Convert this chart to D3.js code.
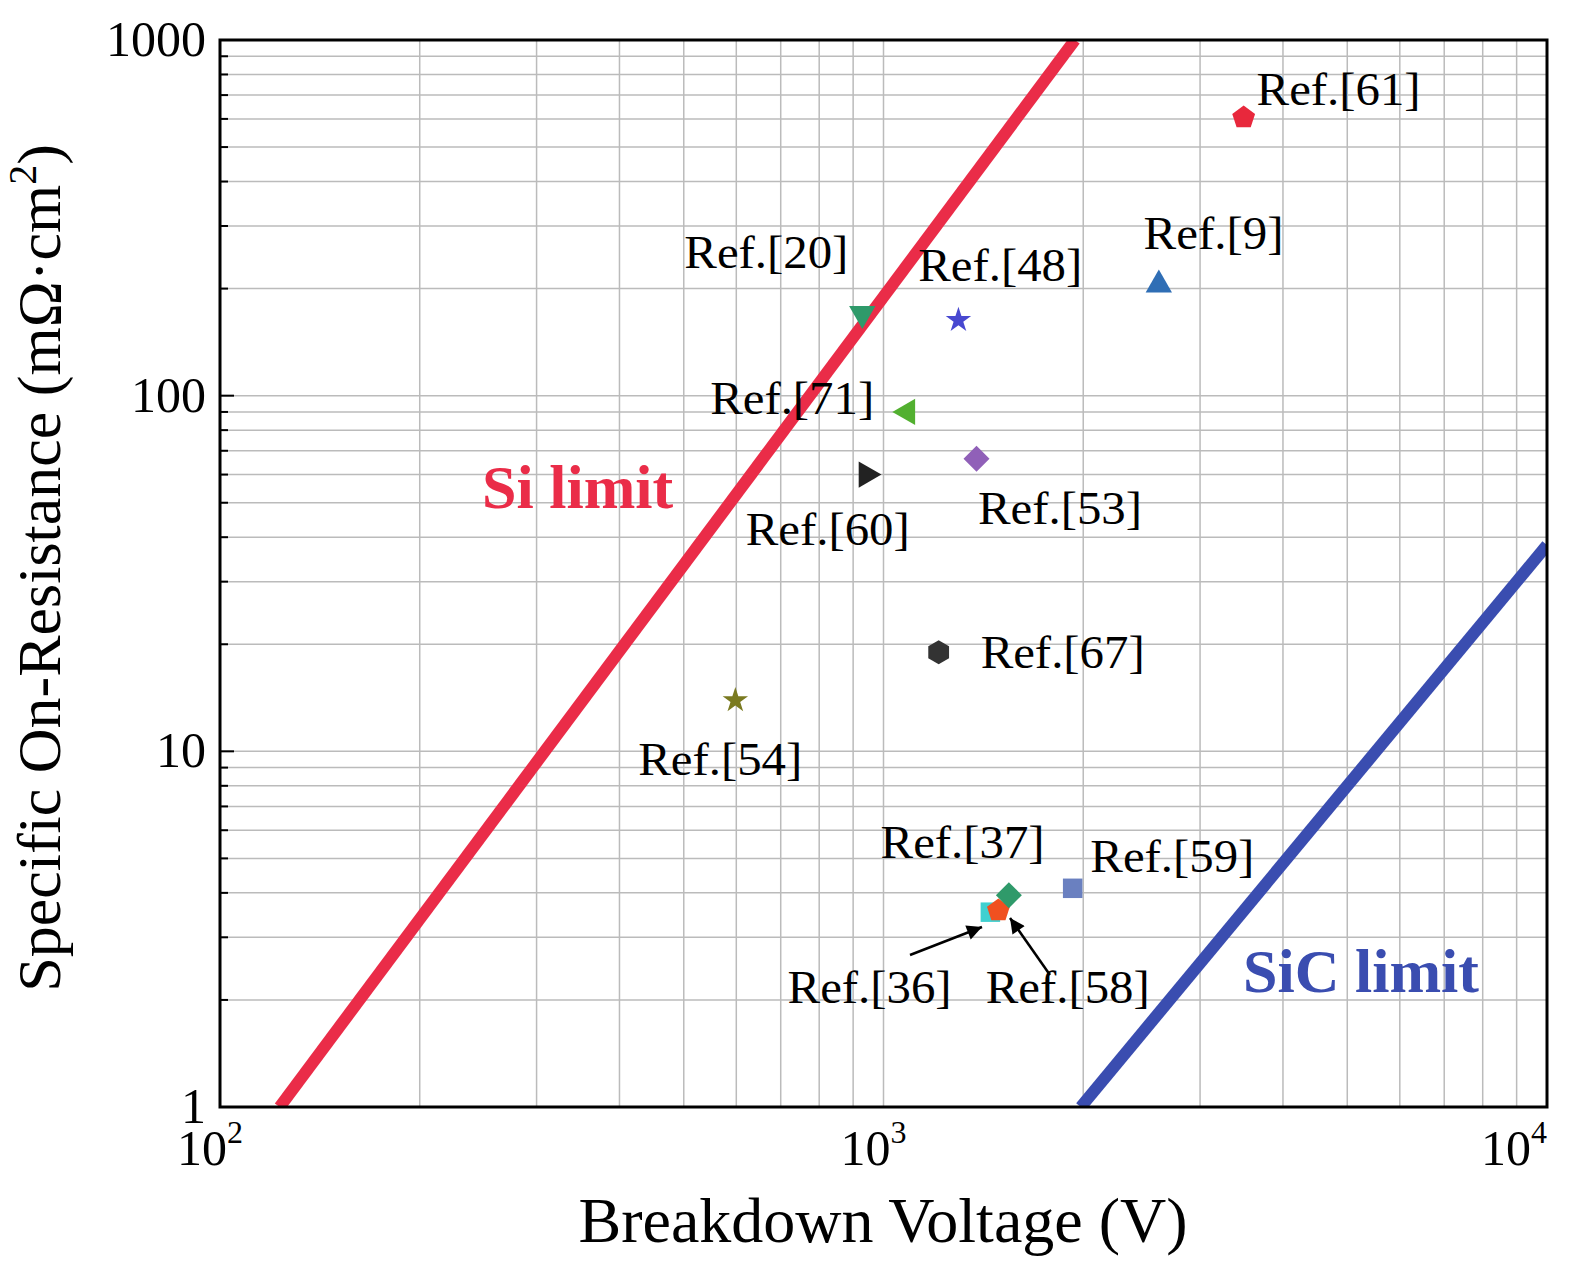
<!DOCTYPE html>
<html>
<head>
<meta charset="utf-8">
<script src="https://cdn.jsdelivr.net/npm/d3@7"></script>
<style>
  body { margin: 0; background: #fff; }
  text { font-family: "Liberation Serif", "Times New Roman", serif; }
</style>
</head>
<body>
<svg id="chart" width="1575" height="1264"></svg>
<script>
// data
var refs   = ["Ref.[61]", "Ref.[9]", "Ref.[20]", "Ref.[48]", "Ref.[71]", "Ref.[60]", "Ref.[53]", "Ref.[67]", "Ref.[54]", "Ref.[37]", "Ref.[59]", "Ref.[58]", "Ref.[36]"];
var volts  = [3490, 2600, 929, 1297, 1087, 942, 1381, 1211, 598, 1545, 1928, 1490, 1449];
var ron    = [605, 205, 170, 163, 90, 60, 66.5, 19, 13.9, 3.94, 4.12, 3.57, 3.53];
var shapes = ["pentagon", "triUp", "triDown", "star", "triLeft", "triRight", "diamond", "hexagon", "star", "diamond", "square", "pentagon", "square"];
var colors = ["#e8283c", "#2f6eb5", "#2e9a6a", "#4848d0", "#52b030", "#222222", "#9060b8", "#333333", "#7a7a20", "#2f9a6a", "#6a80c0", "#f05020", "#40d0d0"];
// label anchor positions (value space)
var labelV = [3650, 2466, 501, 1128, 548, 620, 1388, 1401, 427, 990, 2050, 1426, 717];
var labelR = [656, 258, 228, 210, 89, 38, 43.7, 17.2, 8.58, 5.0, 4.57, 1.96, 1.96];

var siV = [123, 1943], siR = [1, 1000];
var sicV = [1983, 10000], sicR = [1, 38];

var xTicks = [100, 1000, 10000];
var xTickLabels = [["10", "2"], ["10", "3"], ["10", "4"]];
var yTicks = [1, 10, 100, 1000];

var svg = d3.select("#chart");
var L = 220, R = 1547, T = 40, B = 1107;
var x = d3.scaleLog().domain([100, 10000]).range([L, R]);
var y = d3.scaleLog().domain([1, 1000]).range([B, T]);

svg.append("defs").append("clipPath").attr("id", "clip")
  .append("rect").attr("x", L).attr("y", T).attr("width", R - L).attr("height", B - T);

// grid
var minorX = [], minorY = [];
[100, 1000].forEach(function(d) { for (var k = 1; k < 10; k++) minorX.push(d * k); });
[1, 10, 100].forEach(function(d) { for (var k = 1; k < 10; k++) minorY.push(d * k); });
svg.append("g").selectAll("line").data(minorX).enter().append("line")
  .attr("x1", x).attr("x2", x).attr("y1", T).attr("y2", B)
  .attr("stroke", "#bbb").attr("stroke-width", 1.5);
svg.append("g").selectAll("line").data(minorY).enter().append("line")
  .attr("y1", y).attr("y2", y).attr("x1", L).attr("x2", R)
  .attr("stroke", "#bbb").attr("stroke-width", 1.5);

// limit lines
var line = d3.line().x(function(d) { return x(d[0]); }).y(function(d) { return y(d[1]); });
var g = svg.append("g").attr("clip-path", "url(#clip)");
g.append("path").attr("d", line(d3.zip(siV, siR))).attr("stroke", "#ea2c48").attr("stroke-width", 12).attr("fill", "none");
g.append("path").attr("d", line(d3.zip(sicV, sicR))).attr("stroke", "#3a4db0").attr("stroke-width", 12).attr("fill", "none");

// frame
svg.append("rect").attr("x", L).attr("y", T).attr("width", R - L).attr("height", B - T)
  .attr("fill", "none").attr("stroke", "#000").attr("stroke-width", 3);

// y ticks on left
svg.append("g").selectAll("line").data(minorY.concat([1000])).enter().append("line")
  .attr("y1", y).attr("y2", y).attr("x1", L).attr("x2", function(d) { return yTicks.indexOf(d) >= 0 ? L + 14 : L + 8; })
  .attr("stroke", "#000").attr("stroke-width", 2);

// tick labels
svg.append("g").selectAll("text").data(yTicks).enter().append("text")
  .attr("x", L - 14).attr("y", function(d) { return y(d) + 16; })
  .attr("text-anchor", "end").attr("font-size", 50).text(function(d) { return d; });
var xl = svg.append("g").selectAll("text").data(xTicks).enter().append("text")
  .attr("x", function(d, i) { return i === 2 ? R : x(d) - 10; }).attr("y", B + 58)
  .attr("text-anchor", function(d, i) { return i === 2 ? "end" : "middle"; }).attr("font-size", 50);
xl.append("tspan").text(function(d, i) { return xTickLabels[i][0]; });
xl.append("tspan").attr("dy", -22).attr("font-size", 32).text(function(d, i) { return xTickLabels[i][1]; });

// axis titles
svg.append("text").attr("x", 883).attr("y", 1242).attr("text-anchor", "middle")
  .attr("font-size", 64).text("Breakdown Voltage (V)");
var yt = svg.append("text").attr("transform", "translate(60," + 568 + ") rotate(-90)")
  .attr("text-anchor", "middle").attr("font-size", 62);
yt.append("tspan").text("Specific On-Resistance (mΩ·cm");
yt.append("tspan").attr("dy", -24).attr("font-size", 40).text("2");
yt.append("tspan").attr("dy", 24).text(")");

// limit labels
svg.append("text").attr("x", 482).attr("y", 508).attr("font-size", 62).attr("font-weight", "bold")
  .attr("fill", "#ea2c48").text("Si limit");
svg.append("text").attr("x", 1243).attr("y", 992).attr("font-size", 62).attr("font-weight", "bold")
  .attr("fill", "#3a4db0").text("SiC limit");

// markers
function polygon(n, r, off) {
  var pts = d3.range(n).map(function(i) {
    var a = (off + i * 360 / n) * Math.PI / 180;
    return [r * Math.cos(a), r * Math.sin(a)];
  });
  return "M" + pts.join("L") + "Z";
}
function symFor(s) {
  if (s === "pentagon") return { path: polygon(5, 12, -90) };
  if (s === "hexagon") return { path: polygon(6, 12, 90) };
  if (s === "triUp") return { path: d3.symbol(d3.symbolTriangle, 300)(), rot: 0 };
  if (s === "triDown") return { path: d3.symbol(d3.symbolTriangle, 300)(), rot: 180 };
  if (s === "triLeft") return { path: d3.symbol(d3.symbolTriangle, 300)(), rot: -90 };
  if (s === "triRight") return { path: d3.symbol(d3.symbolTriangle, 300)(), rot: 90 };
  if (s === "star") return { path: d3.symbol(d3.symbolStar, 200)() };
  if (s === "diamond") return { path: polygon(4, 13, -90) };
  if (s === "square") return { path: d3.symbol(d3.symbolSquare, 380)() };
}
var order = d3.range(refs.length).reverse();
svg.append("g").selectAll("path").data(order).enter().append("path")
  .attr("d", function(i) { return symFor(shapes[i]).path; })
  .attr("transform", function(i) {
    return "translate(" + x(volts[i]) + "," + y(ron[i]) + ") rotate(" + (symFor(shapes[i]).rot || 0) + ")";
  })
  .attr("fill", function(i) { return colors[i]; });

// labels
svg.append("g").selectAll("text").data(refs).enter().append("text")
  .attr("x", function(d, i) { return x(labelV[i]); })
  .attr("y", function(d, i) { return y(labelR[i]); })
  .attr("font-size", 46).attr("textLength", 162).attr("lengthAdjust", "spacingAndGlyphs")
  .attr("textLength", function(d) { return d.length === 7 ? 140 : 164; })
  .text(function(d) { return d; });

// arrows
var defs = svg.select("defs");
defs.append("marker").attr("id", "ah").attr("viewBox", "0 0 10 10").attr("refX", 10).attr("refY", 5)
  .attr("markerWidth", 8).attr("markerHeight", 6).attr("orient", "auto")
  .append("path").attr("d", "M0,0L10,5L0,10Z").attr("fill", "#000");
var arrows = [[[910, 955], [982, 927]], [[1050, 975], [1010, 918]]];
svg.append("g").selectAll("line").data(arrows).enter().append("line")
  .attr("x1", function(d) { return d[0][0]; }).attr("y1", function(d) { return d[0][1]; })
  .attr("x2", function(d) { return d[1][0]; }).attr("y2", function(d) { return d[1][1]; })
  .attr("stroke", "#000").attr("stroke-width", 2.5).attr("marker-end", "url(#ah)");
</script>
</body>
</html>
